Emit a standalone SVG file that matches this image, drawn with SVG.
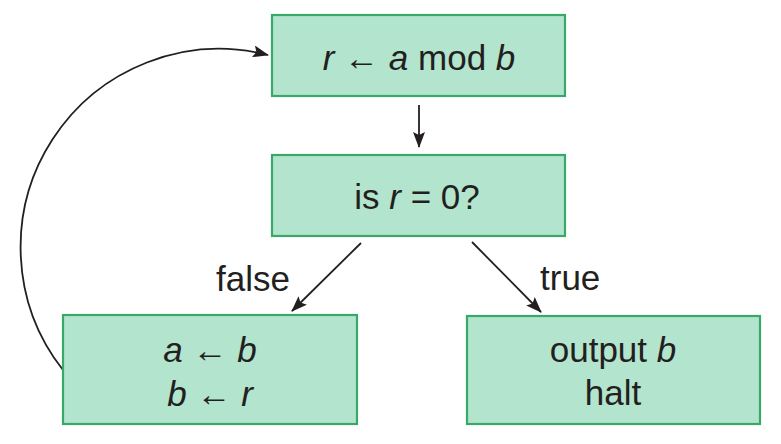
<svg xmlns="http://www.w3.org/2000/svg" width="781" height="444" viewBox="0 0 781 444">
<style>
.box{fill:#b3e4cd;stroke:#3aa86b;stroke-width:2.2}
.t{font-family:"Liberation Sans",Arial,sans-serif;font-size:35px;fill:#231f20}
.c{text-anchor:middle}
.i{font-style:italic}
.e{fill:none;stroke:#231f20;stroke-width:1.8}
</style>
<defs>
<marker id="ah" viewBox="0 0 16 12" refX="15" refY="6" markerWidth="16" markerHeight="12" markerUnits="userSpaceOnUse" orient="auto">
<path d="M0,0 L16,6 L0,12 L3,6 Z" fill="#231f20"/>
</marker>
</defs>
<g id="connectors">
<path class="e" d="M419,105 L419,147" marker-end="url(#ah)"/>
<path class="e" d="M361,243 L292,311" marker-end="url(#ah)"/>
<path class="e" d="M472,242 L541,312" marker-end="url(#ah)"/>
<path class="e" d="M63,370 A198.5,198.5 0 0 1 268,55" marker-end="url(#ah)"/>
<text class="t" x="216" y="291">false</text>
<text class="t" x="540" y="290">true</text>
</g>
<g id="n1">
<rect class="box" x="272" y="15" width="293" height="81"/>
<text class="t c" x="419" y="70"><tspan class="i">r</tspan> ← <tspan class="i">a</tspan> mod <tspan class="i">b</tspan></text>
</g>
<g id="n2">
<rect class="box" x="272" y="155" width="293" height="81"/>
<text class="t c" x="417" y="209">is <tspan class="i">r</tspan> = 0?</text>
</g>
<g id="n3">
<rect class="box" x="63" y="315" width="294" height="109"/>
<text class="t c" x="210" y="362"><tspan class="i">a</tspan> ← <tspan class="i">b</tspan></text>
<text class="t c" x="210" y="406"><tspan class="i">b</tspan> ← <tspan class="i">r</tspan></text>
</g>
<g id="n4">
<rect class="box" x="467" y="316" width="293" height="108"/>
<text class="t c" x="613" y="362">output <tspan class="i">b</tspan></text>
<text class="t c" x="613" y="405">halt</text>
</g>
</svg>
